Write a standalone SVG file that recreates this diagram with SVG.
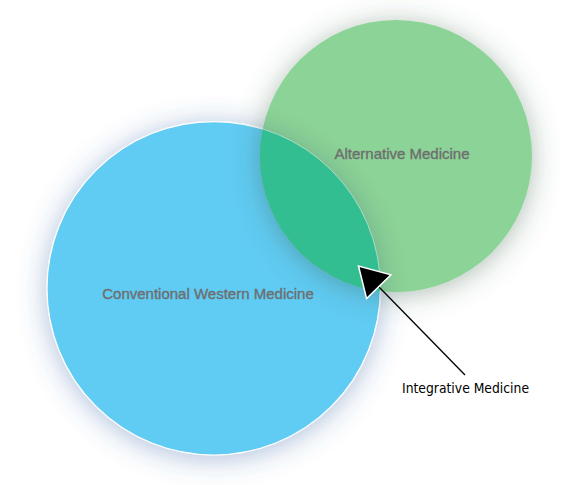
<svg xmlns="http://www.w3.org/2000/svg" width="577" height="485" viewBox="0 0 577 485">
<style>
.lbl{font-family:"Liberation Sans",Arial,sans-serif;font-size:15px;fill:#6e6e6e;stroke:#6e6e6e;stroke-width:0.35;text-anchor:middle}
.ann{font-family:"DejaVu Sans","Liberation Sans",sans-serif;font-size:13.5px;fill:#000}
.conn{stroke:#000;stroke-width:1.3;fill:none}
</style>
<defs>
<filter id="shBlue" x="-40%" y="-40%" width="180%" height="180%">
<feDropShadow dx="0" dy="3" stdDeviation="14" flood-color="#3560a6" flood-opacity="0.42"/>
</filter>
<filter id="shGreen" x="-40%" y="-40%" width="180%" height="180%">
<feDropShadow dx="0" dy="3" stdDeviation="14" flood-color="#3e6446" flood-opacity="0.42"/>
</filter>
<filter id="blurOnly" x="-40%" y="-40%" width="180%" height="180%">
<feGaussianBlur stdDeviation="14"/>
</filter>
<clipPath id="clipGreen"><circle cx="396" cy="156" r="136"/></clipPath>
<clipPath id="clipBlue"><circle cx="213.7" cy="288.3" r="166.7"/></clipPath>
<marker id="arrowHead" markerUnits="userSpaceOnUse" markerWidth="40" markerHeight="40" refX="29" refY="17" orient="auto" overflow="visible">
<path d="M0,0 L29,17 L0,34 Z" fill="#000" stroke="#fff" stroke-width="1.5" stroke-linejoin="miter"/>
</marker>
</defs>
<g id="node-conventional">
<circle cx="213.7" cy="288.3" r="166.7" fill="#61cbf3" stroke="#fff" stroke-width="1.2" filter="url(#shBlue)"/>
</g>
<g id="node-alternative">
<circle cx="396" cy="156" r="136" fill="#8bd396" filter="url(#shGreen)"/>
<g clip-path="url(#clipGreen)">
<circle cx="213.7" cy="291.3" r="166.7" fill="#34507a" opacity="0.32" filter="url(#blurOnly)"/>
</g>
</g>
<g id="node-integrative">
<circle cx="396" cy="156" r="136" fill="#33be91" clip-path="url(#clipBlue)"/>
<circle cx="213.7" cy="288.3" r="166.7" fill="none" stroke="#fff" stroke-width="1" opacity="0.45" clip-path="url(#clipGreen)"/>
</g>
<g id="connectors">
<line class="conn" x1="465" y1="375" x2="358.5" y2="266" marker-end="url(#arrowHead)"/>
</g>
<g id="labels">
<text class="lbl" x="208" y="298.5">Conventional Western Medicine</text>
<text class="lbl" x="402" y="158.5">Alternative Medicine</text>
<text class="ann" x="402" y="392.5" textLength="127" lengthAdjust="spacingAndGlyphs">Integrative Medicine</text>
</g>
</svg>
